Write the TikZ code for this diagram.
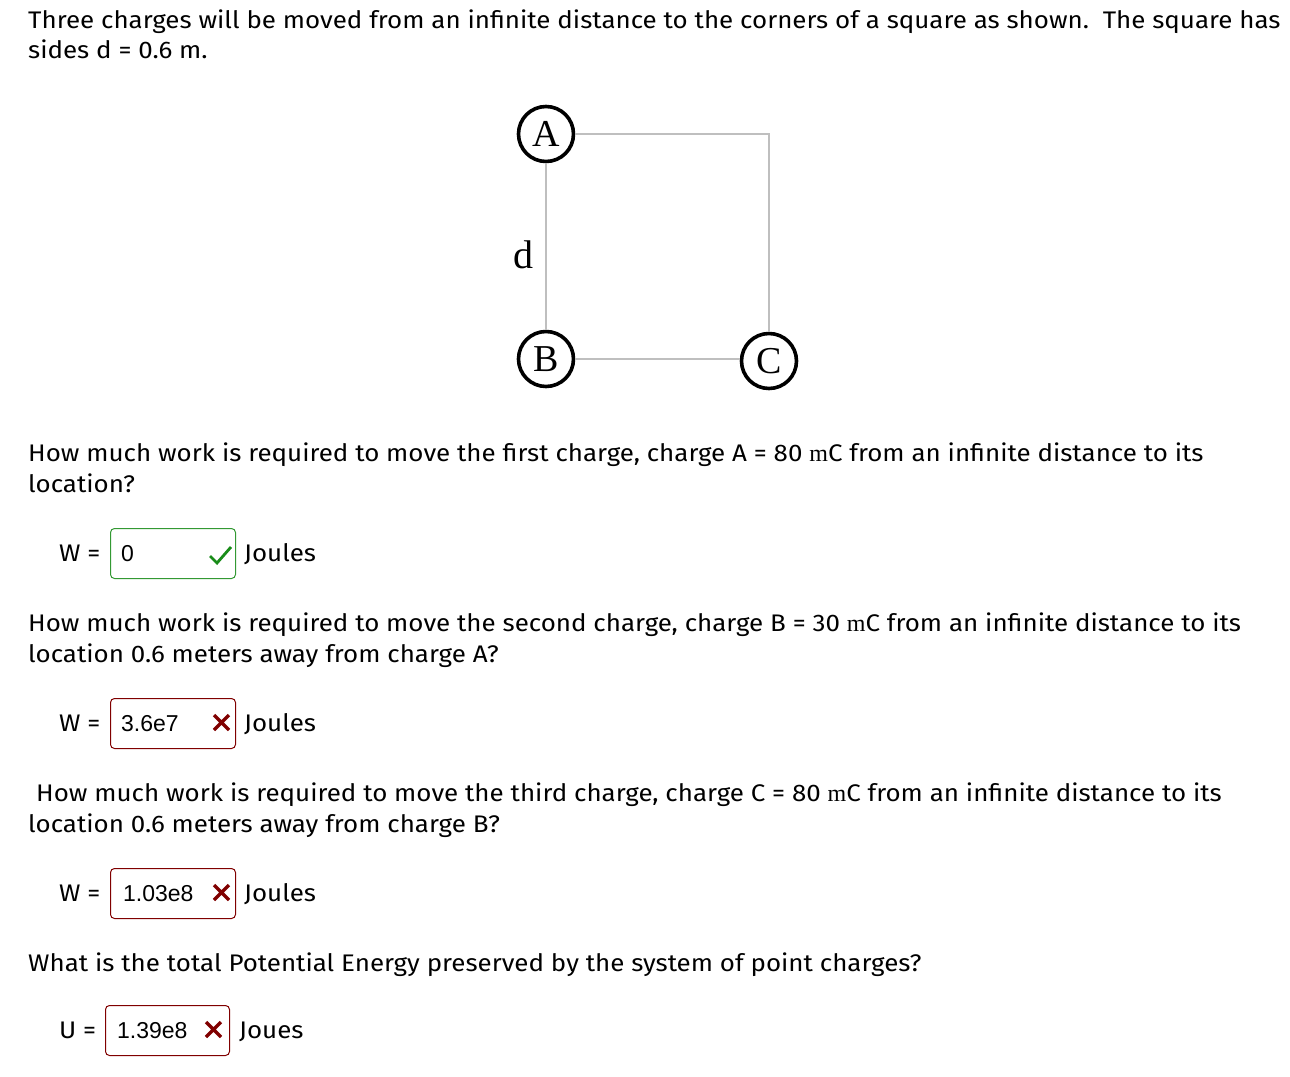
\documentclass[tikz,border=0pt]{standalone}
\usepackage{fontspec}
\setmainfont[FakeStretch=1.08]{Fira Sans}
\newfontfamily\boxfont{Liberation Sans}
\newfontfamily\serf{Liberation Serif}
\begin{document}
\begin{tikzpicture}[x=1pt,y=-1pt,
  txt/.style={anchor=base west,inner sep=0pt,font=\fontsize{24}{28}\selectfont},
  chg/.style={circle,draw=black,line width=3.6pt,minimum size=55pt,inner sep=0pt,font=\serf\fontsize{38}{38}\selectfont},
  side/.style={draw=black!25,line width=1.2pt},
  ansok/.style={draw=green!50!black!80,line width=1pt,rounded corners=4pt,minimum width=125pt,minimum height=50pt,anchor=north west},
  ansbad/.style={draw=red!50!black,line width=1pt,rounded corners=4pt,minimum width=125pt,minimum height=50pt,anchor=north west},
  val/.style={anchor=base west,inner sep=0pt,font=\boxfont\fontsize{23}{26}\selectfont}]
\useasboundingbox (0,0) rectangle (1290,1076);
\node[txt] (t1) at (28,28) {Three charges will be moved from an infinite distance to the corners of a square as shown.\ \ The square has};
\node[txt] (t2) at (28,58) {sides d = 0.6 m.};
% square
\node[chg] (A) at (546,134) {A};
\node[chg] (B) at (546,359) {B};
\node[chg] (C) at (769,361) {C};
\coordinate (AC) at (769,134);
\draw[side] (A) -- (AC) -- (C);
\draw[side] (A) -- (B);
\draw[side] (B.east) -- (C.west |- B.east);
\node[anchor=base,inner sep=0pt,font=\serf\fontsize{40}{40}\selectfont] (d) at (523,268) {d};
% Q1
\node[txt] (q1a) at (28,461) {How much work is required to move the first charge, charge A = 80 {\serf m}C from an infinite distance to its};
\node[txt] (q1b) at (28,492) {location?};
\node[txt] (w1) at (59,561) {W =};
\node[ansok] (b1) at (110,528) {};
\node[val] (v1) at (121,561) {0};
\draw[green!50!black!90,line width=2.8pt] (210,556) -- (217,563) -- (231,547);
\node[txt] (j1) at (244,561) {Joules};
% Q2
\node[txt] (q2a) at (28,631) {How much work is required to move the second charge, charge B = 30 {\serf m}C from an infinite distance to its};
\node[txt] (q2b) at (28,662) {location 0.6 meters away from charge A?};
\node[txt] (w2) at (59,731) {W =};
\node[ansbad] (b2) at (110,698) {};
\node[val] (v2) at (121,731) {3.6e7};
\draw[red!50!black,line width=3.4pt] (214,715) -- (229,730) (229,715) -- (214,730);
\node[txt] (j2) at (244,731) {Joules};
% Q3
\node[txt] (q3a) at (36,801) {How much work is required to move the third charge, charge C = 80 {\serf m}C from an infinite distance to its};
\node[txt] (q3b) at (28,832) {location 0.6 meters away from charge B?};
\node[txt] (w3) at (59,901) {W =};
\node[ansbad] (b3) at (110,868) {};
\node[val] (v3) at (123,901) {1.03e8};
\draw[red!50!black,line width=3.4pt] (214,885) -- (229,900) (229,885) -- (214,900);
\node[txt] (j3) at (244,901) {Joules};
% Q4
\node[txt] (q4) at (28,971) {What is the total Potential Energy preserved by the system of point charges?};
\node[txt] (u4) at (59,1038) {U =};
\node[ansbad,minimum width=124pt] (b4) at (105,1005) {};
\node[val] (v4) at (117,1038) {1.39e8};
\draw[red!50!black,line width=3.4pt] (206,1022) -- (221,1037) (221,1022) -- (206,1037);
\node[txt] (j4) at (239,1038) {Joues};
\end{tikzpicture}
\end{document}
